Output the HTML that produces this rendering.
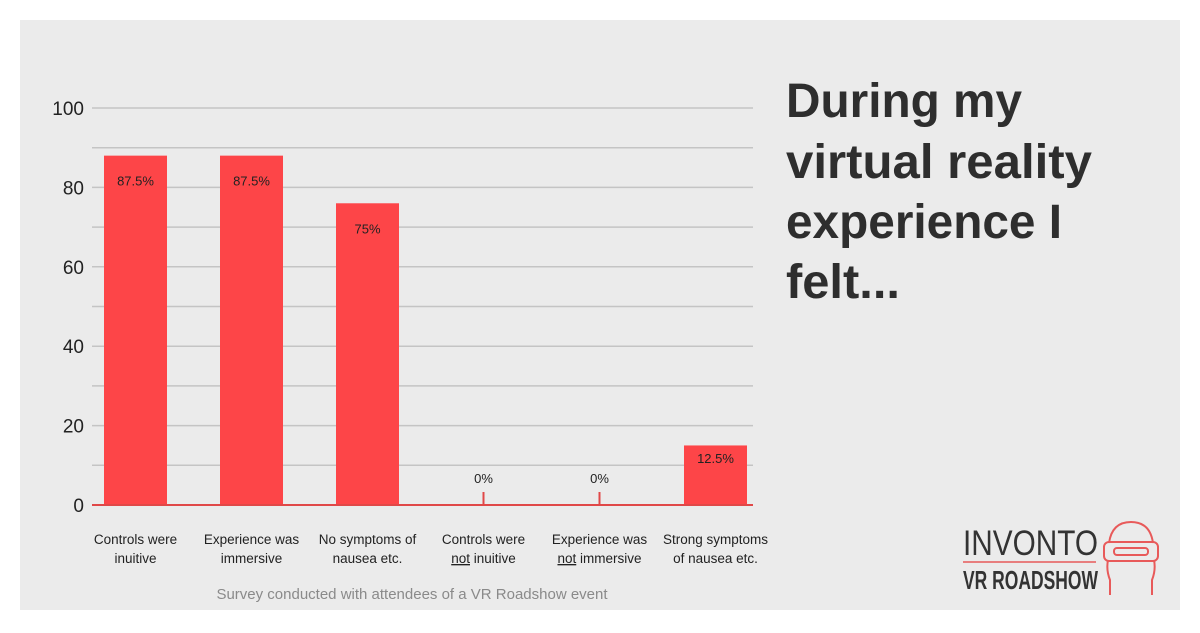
<!DOCTYPE html>
<html><head><meta charset="utf-8"><style>
body{margin:0;background:#fff;width:1200px;height:628px;overflow:hidden;font-family:"Liberation Sans",sans-serif}
</style></head><body>
<svg width="1200" height="628" xmlns="http://www.w3.org/2000/svg">
<rect x="20" y="20" width="1160" height="590" fill="#ebebeb"/>
<g id="grid"></g><g id="bars"></g><g id="xlabels"></g>
<text x="412" y="599" font-size="15" fill="#8a8a8a" text-anchor="middle">Survey conducted with attendees of a VR Roadshow event</text>
<g font-size="48" font-weight="bold" fill="#2e2e2e">
<text x="786" y="117" textLength="236" lengthAdjust="spacingAndGlyphs">During my</text><text x="786" y="178" textLength="306" lengthAdjust="spacingAndGlyphs">virtual reality</text><text x="786" y="238" textLength="276" lengthAdjust="spacingAndGlyphs">experience I</text><text x="786" y="298" textLength="114" lengthAdjust="spacingAndGlyphs">felt...</text></g>
<g>
<text x="963" y="555" font-size="35" fill="#333" textLength="135" lengthAdjust="spacingAndGlyphs" style="font-weight:300">INVONTO</text>
<line x1="963" y1="562" x2="1096" y2="562" stroke="#e85a5a" stroke-width="1.5"/>
<text x="963" y="589" font-size="26" font-weight="bold" fill="#333" textLength="135" lengthAdjust="spacingAndGlyphs">VR ROADSHOW</text>
<g fill="none" stroke="#e85a5a" stroke-width="2">
<path d="M1110 595 L1110 580 Q1106 570 1108 560 M1152 595 L1152 580 Q1156 570 1154 560"/>
<path d="M1109 543 Q1112 522 1131 522 Q1150 522 1153 543"/>
<rect x="1104" y="542" width="54" height="19" rx="5"/>
<rect x="1114" y="548" width="34" height="7" rx="3"/>
</g></g>
<script>
const categories=[["Controls were","inuitive"],["Experience was","immersive"],["No symptoms of","nausea etc."],["Controls were","not inuitive"],["Experience was","not immersive"],["Strong symptoms","of nausea etc."]];
const values=[88,88,76,0,0,15];
const valueLabels=["87.5%","87.5%","75%","0%","0%","12.5%"];
const ticks=[0,20,40,60,80,100];
const NS="http://www.w3.org/2000/svg";
const x0=92,x1=753,y0=505,y100=108;
const y=v=>y0-(v/100)*(y0-y100);
const xc=i=>135.5+i*116;
function mk(t,a,p){const e=document.createElementNS(NS,t);for(const k in a)e.setAttribute(k,a[k]);p.appendChild(e);return e;}
const g=document.getElementById('grid'),b=document.getElementById('bars'),xl=document.getElementById('xlabels');
for(let v=10;v<=100;v+=10){const l=mk('line',{x1:x0,x2:x1,y1:y(v),y2:y(v),stroke:'#c4c4c4','stroke-width':1.5},g);

}
ticks.forEach(v=>{const t=mk('text',{x:84,y:y(v)+7,'font-size':19,fill:'#222','text-anchor':'end'},g);t.textContent=v;

});
values.forEach((v,i)=>{
 if(v>0){const r=mk('rect',{x:xc(i)-31.5,y:y(v),width:63,height:y0-y(v),fill:'#fd4548'},b);
 
 }
 else{const r=mk('line',{x1:xc(i),x2:xc(i),y1:y0-13,y2:y0,stroke:'#e04848','stroke-width':2},b);
 
 }
 const t=mk('text',{x:xc(i),y:v>0?Math.min(y(v)+30,y0-42):y0-22,'font-size':13,fill:'#222','text-anchor':'middle'},b);
 t.textContent=valueLabels[i];
 
 
 categories[i].forEach((s,j)=>{const tt=mk('text',{x:xc(i),y:544+j*19,'font-size':13.5,fill:'#222','text-anchor':'middle'},xl);
  if(s.startsWith('not ')){const u=mk('tspan',{'text-decoration':'underline'},tt);u.textContent='not';tt.appendChild(document.createTextNode(s.slice(3)));}
  else tt.textContent=s;
  
  });
});
const base=mk('line',{x1:x0,x2:x1,y1:y0,y2:y0,stroke:'#e04848','stroke-width':2},b);


</script>
</svg>
</body></html>
